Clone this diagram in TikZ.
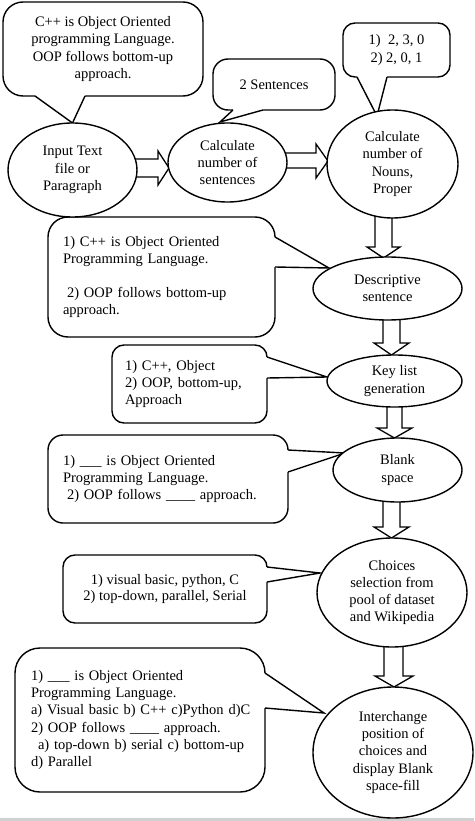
\documentclass[tikz,border=0pt]{standalone}
\usepackage{fontspec}
\setmainfont{Liberation Serif}
\usetikzlibrary{shapes.geometric,calc}
\tikzset{
  ell/.style={draw,ellipse,fill=white,line width=1.4pt,inner sep=0pt,align=center,
    font=\fontsize{14.5}{17.3}\selectfont},
  cbox/.style={draw,rectangle,fill=white,line width=1.4pt,inner sep=0pt,
    font=\fontsize{14.5}{17.3}\selectfont},
  tailline/.style={line width=1.4pt,line join=miter},
  barrow/.style={draw,fill=white,line width=1.3pt,line join=miter},
}
\newcommand\calltail[4]{%
  \fill[white] ($#1+#4$) -- #1 -- #2 -- #3 -- ($#3+#4$) -- cycle;
  \draw[tailline] #1 -- #2 -- #3;}
\begin{document}
\begin{tikzpicture}[x=1pt,y=-1pt]
\useasboundingbox (0,0) rectangle (474,821);
\fill[white] (0,0) rectangle (474,821);
\fill[black!18] (0,818) rectangle (474,821);

% callout boxes
\node[cbox,rounded corners=20pt,minimum width=200pt,minimum height=94pt,align=center] (c1) at (103,49)
  {C++ is Object Oriented\\programming Language.\\OOP follows bottom-up\\approach.};
\node[cbox,rounded corners=15pt,minimum width=122pt,minimum height=51pt,align=center] (c2) at (274,84.5)
  {2 Sentences};
\node[cbox,rounded corners=12pt,minimum width=107pt,minimum height=54pt,align=center] (c3) at (396.5,50)
  {1)\ \ 2, 3, 0\\2) 2, 0, 1};
\node[cbox,rounded corners=20pt,minimum width=227pt,minimum height=120pt,text width=197pt,align=left] (c4) at (161.5,277)
  {1) C++ is Object Oriented\\Programming Language.\\[16pt]\hspace*{4pt}2) OOP follows bottom-up\\approach.};
\node[cbox,rounded corners=12pt,minimum width=155pt,minimum height=78pt,text width=129pt,align=left] (c5) at (189.5,384)
  {1) C++, Object\\2) OOP, bottom-up,\\Approach};
\node[cbox,rounded corners=15pt,minimum width=240pt,minimum height=88pt,text width=210pt,align=left] (c6) at (168,479)
  {1) \_\_\_ is Object Oriented\\Programming Language.\\\hspace*{4pt}2) OOP follows \_\_\_\_ approach.};
\node[cbox,rounded corners=12pt,minimum width=204pt,minimum height=68pt,align=center] (c7) at (165,589)
  {1) visual basic, python, C\\[-2pt]2) top-down, parallel, Serial};
\node[cbox,rounded corners=25pt,minimum width=250pt,minimum height=144pt,text width=218pt,align=left] (c8) at (140,720)
  {1) \_\_\_ is Object Oriented\\Programming Language.\\\mbox{a) Visual basic b) C++ c)Python d)C}\\2) OOP follows \_\_\_\_ approach.\\\mbox{\hspace*{7pt}a) top-down b) serial c) bottom-up}\\d) Parallel};

% tail points
\coordinate (t1) at (72.5,123);  \coordinate (t2) at (220,122);  \coordinate (t3) at (377,116);
\coordinate (t4) at (329,268);   \coordinate (t5) at (327,377);  \coordinate (t6) at (345,453);
\coordinate (t7) at (320,573);   \coordinate (t8) at (324,713);

\calltail{(35,96)}{(t1)}{(85,96)}{(0,-3)}
\calltail{(233,110)}{(t2)}{(263,110)}{(0,-3)}
\calltail{(357,77)}{(t3)}{(387,77)}{(0,-3)}
\calltail{(275,237)}{(t4)}{(275,267)}{(-3,0)}
\calltail{(267,357)}{(t5)}{(267,378)}{(-3,0)}
\calltail{(288,450)}{(t6)}{(288,472)}{(-3,0)}
\calltail{(267,567)}{(t7)}{(267,582)}{(-3,0)}
\calltail{(265,673)}{(t8)}{(265,708)}{(-3,0)}

% block arrows
\draw[barrow] (128,159) -- (158,159) -- (158,151) -- (169,168) -- (158,185) -- (158,177) -- (128,177) -- cycle;
\draw[barrow] (280,153) -- (316,153) -- (316,144) -- (328,161) -- (316,178) -- (316,168) -- (280,168) -- cycle;
\draw[barrow] (375,210) -- (375,247) -- (367,247) -- (383.5,258) -- (400,247) -- (392,247) -- (392,210) -- cycle;
\draw[barrow] (383,313) -- (383,343) -- (374,343) -- (391.5,355) -- (409,343) -- (400,343) -- (400,313) -- cycle;
\draw[barrow] (387,400) -- (387,428) -- (377,428) -- (394.5,438) -- (412,428) -- (402,428) -- (402,400) -- cycle;
\draw[barrow] (383,495) -- (383,527) -- (374,527) -- (391.5,538) -- (409,527) -- (400,527) -- (400,495) -- cycle;
\draw[barrow] (384,640) -- (384,676) -- (375,676) -- (394,687) -- (413,676) -- (403,676) -- (403,640) -- cycle;

% ellipses
\node[ell,minimum width=129pt,minimum height=94pt] (e1) at (72.5,170) {Input Text\\file or\\Paragraph};
\node[ell,minimum width=119pt,minimum height=79pt] (e2) at (227.5,162.5) {Calculate\\number of\\sentences};
\node[ell,minimum width=131pt,minimum height=108pt] (e3) at (392.5,164) {Calculate\\number of\\Nouns,\\Proper};
\node[ell,minimum width=149pt,minimum height=63pt] (e4) at (387.5,288.5) {Descriptive\\sentence};
\node[ell,minimum width=135pt,minimum height=52pt] (e5) at (394.5,381) {Key list\\generation};
\node[ell,minimum width=129pt,minimum height=64pt] (e6) at (397.5,470) {Blank\\space};
\node[ell,minimum width=150pt,minimum height=109pt] (e7) at (392,592.5) {Choices\\selection from\\pool of dataset\\and Wikipedia};
\node[ell,minimum width=160pt,minimum height=131pt] (e8) at (393,752.5) {Interchange\\position of\\choices and\\display Blank\\space-fill};
\end{tikzpicture}
\end{document}
